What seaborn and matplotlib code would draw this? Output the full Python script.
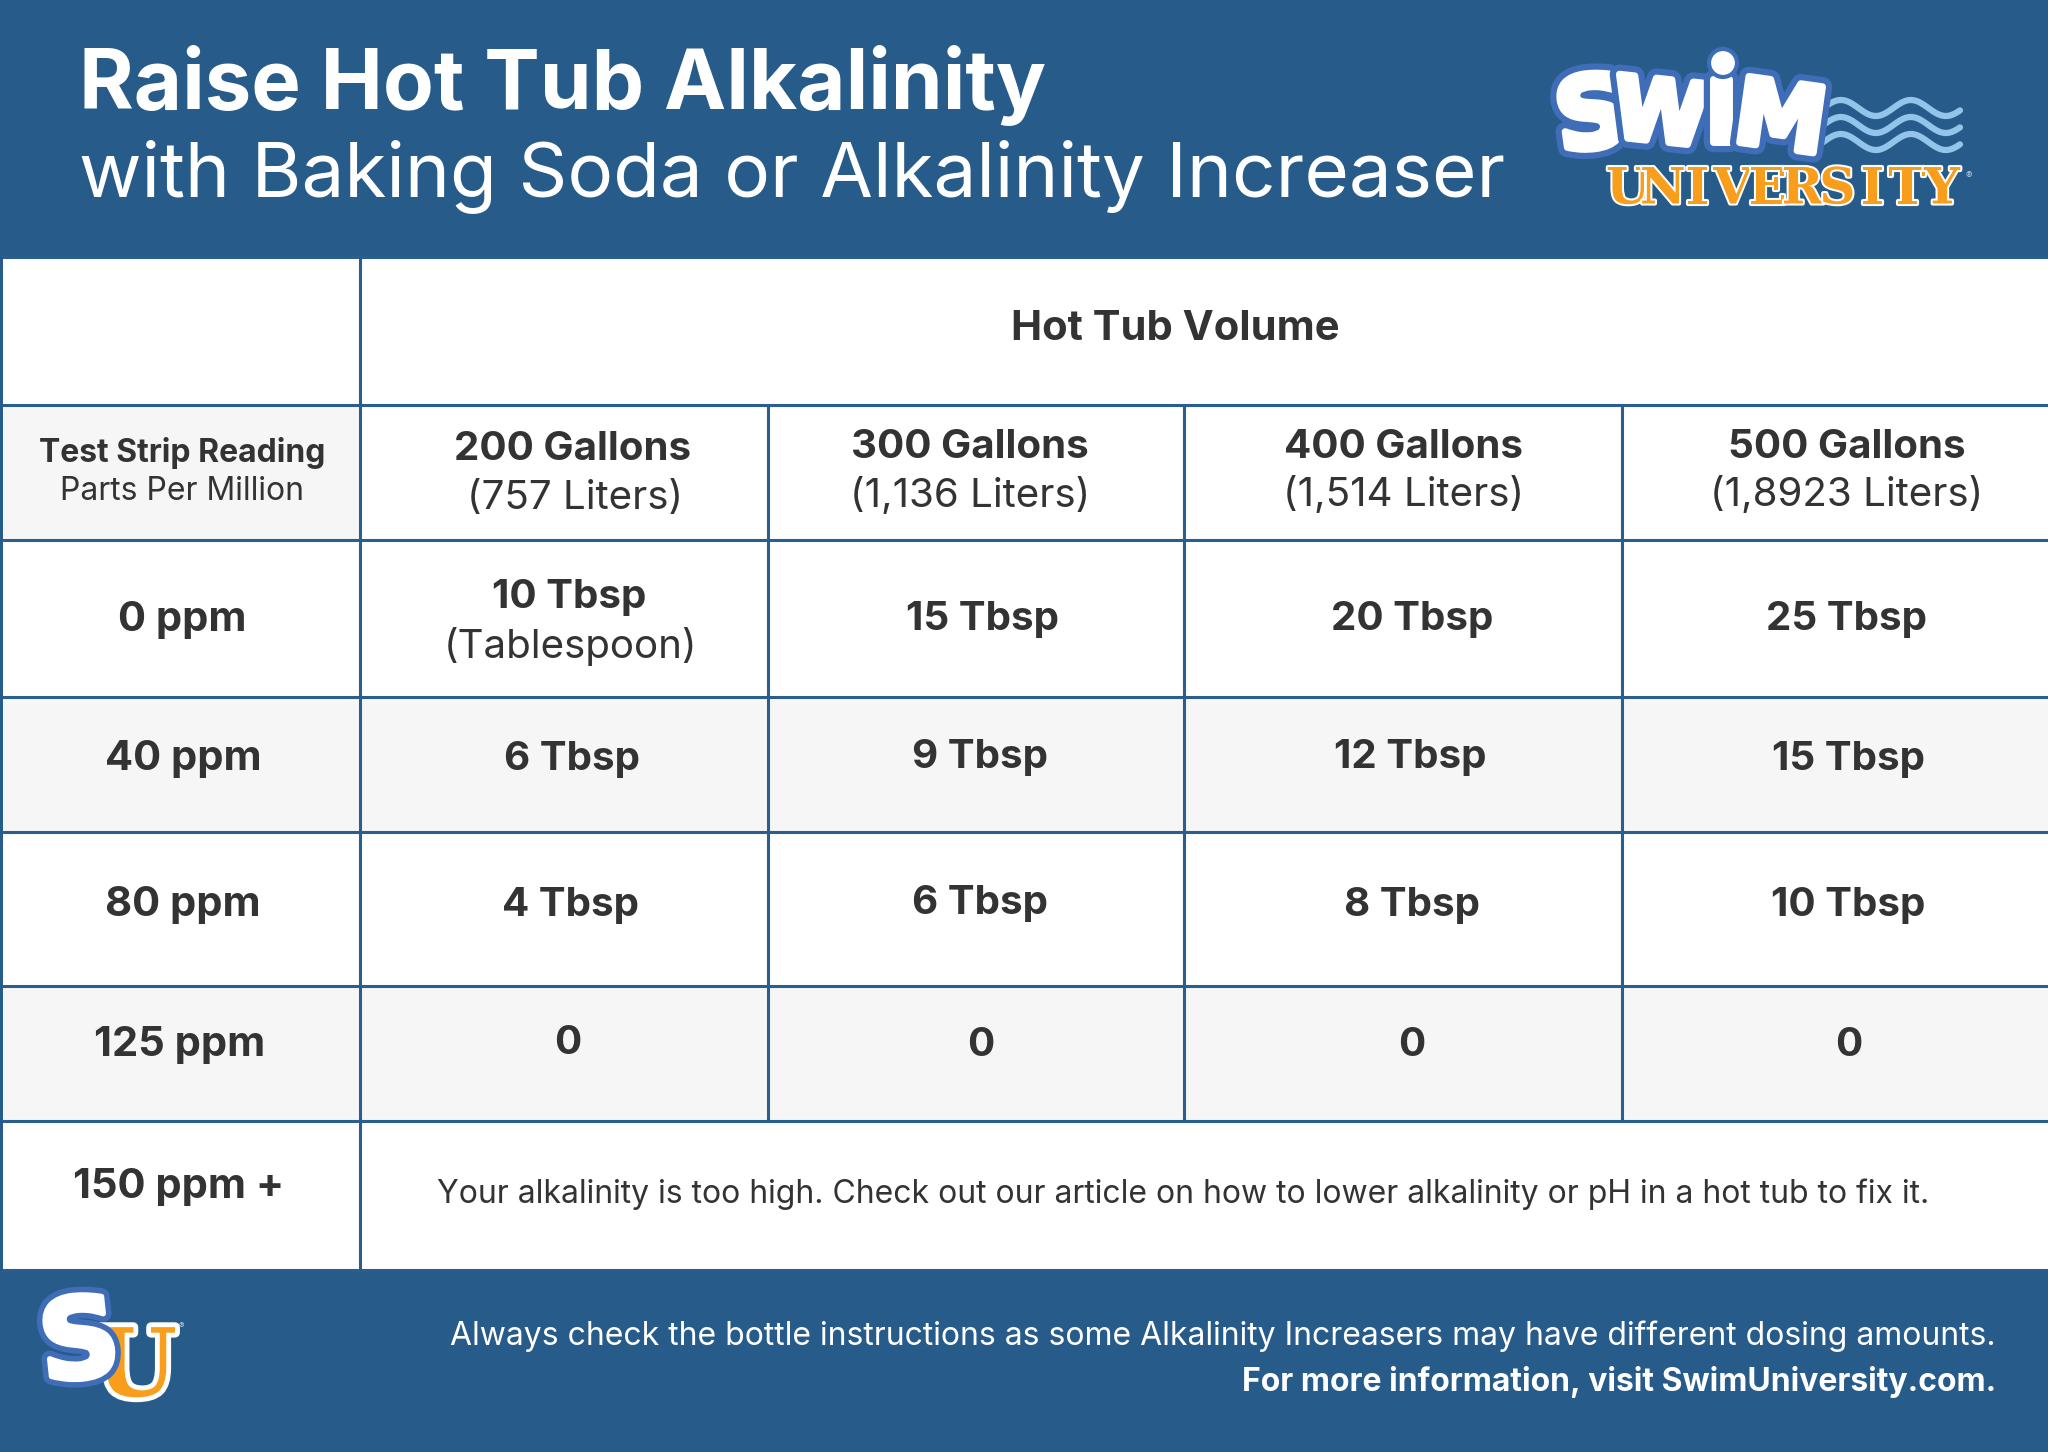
import numpy as np
import matplotlib
matplotlib.use("Agg")
import matplotlib.pyplot as plt
import matplotlib.patheffects as pe
from matplotlib.colors import ListedColormap
from matplotlib.patches import Circle
import seaborn as sns

# ---------------------------------------------------------------
# DATA
# ---------------------------------------------------------------
title_main = "Raise Hot Tub Alkalinity"
title_sub = "with Baking Soda or Alkalinity Increaser"
span_header = "Hot Tub Volume"
row_header = ["Test Strip Reading", "Parts Per Million"]
gallons = ["200 Gallons", "300 Gallons", "400 Gallons", "500 Gallons"]
liters = ["(757 Liters)", "(1,136 Liters)", "(1,514 Liters)", "(1,8923 Liters)"]
ppm = ["0 ppm", "40 ppm", "80 ppm", "125 ppm", "150 ppm +"]
tbsp_200 = [10, 6, 4, 0]
tbsp_300 = [15, 9, 6, 0]
tbsp_400 = [20, 12, 8, 0]
tbsp_500 = [25, 15, 10, 0]
too_high = "Your alkalinity is too high. Check out our article on how to lower alkalinity or pH in a hot tub to fix it."
foot_1 = "Always check the bottle instructions as some Alkalinity Increasers may have different dosing amounts."
foot_2 = "For more information, visit SwimUniversity.com."

BLUE = "#275B89"
GREY = "#F6F6F6"
INK = "#333333"
ORANGE = "#F99D1C"
LOGO_BLUE = "#3F6DB8"
WAVE = "#93C4EA"

# ---------------------------------------------------------------
# LAYOUT (pixels)
# ---------------------------------------------------------------
row_h = [257, 148, 135, 157, 135, 154, 135, 149, 182]
col_w = [3, 357, 408, 416, 438, 426]
shade = np.array([
    [2, 2, 2, 2, 2, 2],
    [2, 0, 0, 0, 0, 0],
    [2, 1, 0, 0, 0, 0],
    [2, 0, 0, 0, 0, 0],
    [2, 1, 1, 1, 1, 1],
    [2, 0, 0, 0, 0, 0],
    [2, 1, 1, 1, 1, 1],
    [2, 0, 0, 0, 0, 0],
    [2, 2, 2, 2, 2, 2],
])
ys = np.cumsum(row_h)
xs = np.cumsum(col_w)

col_x = [[573, 970, 1404, 1847], [575, 970, 1404, 1847]]
dose_x = [
    [982, 1412, 1847],
    [572, 980, 1410, 1848],
    [571, 980, 1412, 1848],
    [568, 981, 1412, 1849],
]
dose_y = [[620, 620, 620], [759, 757, 757, 759], [905, 904, 905, 905], [1043, 1045, 1045, 1045]]
ppm_x = [182, 183, 183, 180, 179]
ppm_y = [620, 759, 905, 1045, 1187]

# ---------------------------------------------------------------
# POSTER
# ---------------------------------------------------------------
sns.set_theme(style="white")
plt.rcParams["font.family"] = ["Inter", "DejaVu Sans"]

fig = plt.figure(figsize=(20.48, 14.52), dpi=100, facecolor=BLUE)
ax = fig.add_axes([0, 0, 1, 1])

# one heatmap cell per pixel, so the axes run in pixels
cells = np.repeat(np.repeat(shade, row_h, axis=0), col_w, axis=1)
sns.heatmap(cells, ax=ax, cmap=ListedColormap(["white", GREY, BLUE]), vmin=0, vmax=2,
            cbar=False, xticklabels=False, yticklabels=False, rasterized=True)
ax.set_xlim(0, 2048)
ax.set_ylim(1452, 0)
ax.axis("off")

# table rules
line = dict(color="#2A5E8F", lw=2.2, zorder=3)
ax.hlines(ys[:-1], 2, 2048, **line)
ax.vlines(xs[1], ys[0], ys[-2], **line)
ax.vlines(xs[2:5], ys[1], ys[6 + 1 - 0], **line) if False else None
ax.vlines(xs[2:5], ys[1], ys[7 - 0 - 0 - 0 - 0] - 0, **line) if False else None
ax.vlines(xs[2:5], ys[1], ys[6], **line)


def txt(x, y, s, size, weight="normal", color=INK, ha="center", **kw):
    return ax.text(x, y, s, fontsize=size, fontweight=weight, color=color, ha=ha, va="center", zorder=5, **kw)


# header band
txt(79, 85, title_main, 60, "bold", "white", ha="left")
txt(79, 176, title_sub, 55, "normal", "white", ha="left")

# table text
txt(1175, 329, span_header, 30, "bold")
txt(182, 453, row_header[0], 23, "bold")
txt(182, 492, row_header[1], 23)
for i in range(4):
    txt(col_x[0][i], [449, 448, 447, 447][i], gallons[i], 29, "bold")
    txt(col_x[1][i], [498, 496, 495, 495][i], liters[i], 29)

for i in range(5):
    txt(ppm_x[i], ppm_y[i], ppm[i], 30, "bold")

txt(569, 598, f"{tbsp_200[0]} Tbsp", 29, "bold")
txt(571, 646, "(Tablespoon)", 29)
doses = [tbsp_200, tbsp_300, tbsp_400, tbsp_500]
for r in range(4):
    start = 1 if r == 0 else 0
    for c in range(start, 4):
        v = doses[c][r]
        label = f"{v} Tbsp" if v else "0"
        txt(dose_x[r][c - start], dose_y[r][c - start], label, 29, "bold")
txt(1183, 1194, too_high, 23)

# footer band
txt(1996, 1336, foot_1, 23, color="white", ha="right")
txt(1996, 1382, foot_2, 23, "bold", color="white", ha="right")


# ---------------------------------------------------------------
# LOGOS
# ---------------------------------------------------------------
def swim_letter(x, y, s, size, rot=0):
    ax.text(x, y, s, fontsize=size, fontweight="bold", family="DejaVu Sans", color="white",
            ha="center", va="center", rotation=rot, zorder=7,
            path_effects=[pe.withStroke(linewidth=14, foreground=LOGO_BLUE),
                          pe.withStroke(linewidth=5, foreground="white")])


def uni_letter(x, y, s, size):
    ax.text(x, y, s, fontsize=size, fontweight="bold", family="DejaVu Serif", color=ORANGE,
            ha="center", va="center", zorder=7,
            path_effects=[pe.withStroke(linewidth=3, foreground="white")])


# waves behind the lettering
wave_x = np.linspace(1815, 1960, 120)
for wy in [108, 125, 142]:
    ax.plot(wave_x, wy - 8 * np.sin((wave_x - 1820) * 2 * np.pi / 70 - 0.3), color=WAVE, lw=4.5, zorder=6)

swim_letter(1592, 120, "S", 72, 8)
swim_letter(1660, 118, "W", 62, -6)
swim_letter(1721, 118, "I", 62, 0)
swim_letter(1780, 122, "M", 66, -8)
ax.add_patch(Circle((1723, 63), 14, fc="white", ec=LOGO_BLUE, lw=3, zorder=8))

for lx, ch in zip(np.linspace(1628, 1942, 10), "UNIVERSITY"):
    uni_letter(lx, 190, ch, 36)
txt(1969, 176, "®", 7, color="#B8CDE0")

# SU mark
ax.text(136, 1370, "U", fontsize=68, fontweight="bold", family="DejaVu Serif", color=ORANGE,
        ha="center", va="center", zorder=6, path_effects=[pe.withStroke(linewidth=7, foreground="white")])
ax.text(80, 1347, "S", fontsize=80, fontweight="bold", family="DejaVu Sans", color="white",
        ha="center", va="center", rotation=6, zorder=7,
        path_effects=[pe.withStroke(linewidth=12, foreground=LOGO_BLUE),
                      pe.withStroke(linewidth=4, foreground="white")])
txt(181, 1326, "®", 6, color="#B8CDE0")

fig.savefig("out.png", dpi=100, facecolor=BLUE)
plt.close(fig)
